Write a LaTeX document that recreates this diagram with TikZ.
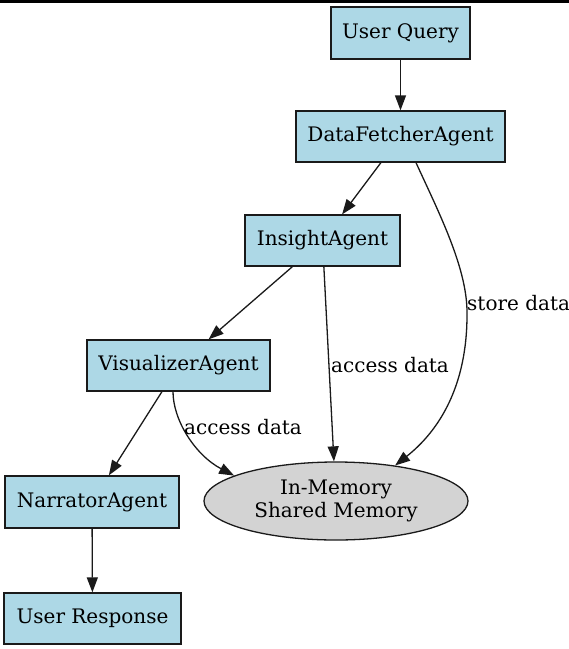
\documentclass[tikz,border=0pt]{standalone}
\usepackage{fontspec}
\setmainfont{DejaVu Serif}
\usetikzlibrary{arrows.meta,shapes.geometric}
\definecolor{boxfill}{HTML}{ADD8E6}
\definecolor{memfill}{HTML}{D3D3D3}
\definecolor{edgecol}{HTML}{1A1A1A}
\begin{document}
\begin{tikzpicture}[x=1pt,y=-1pt,
  every node/.style={font=\fontsize{20}{23}\selectfont},
  agent/.style={draw=edgecol,line width=1.3pt,fill=boxfill,rectangle,inner sep=0pt},
  mem/.style={draw=edgecol,line width=1.3pt,fill=memfill,ellipse,inner sep=0pt,align=center},
  conn/.style={draw=edgecol,line width=1.3pt,-{Triangle[length=15pt,width=11pt]}},
  lab/.style={anchor=west,inner sep=0pt}]
\useasboundingbox (0,0) rectangle (569,649);
\fill[black] (0,0) rectangle (569,2.5);
\node[agent,minimum width=139pt,minimum height=52pt] (uq) at (400.5,33) {User Query};
\node[agent,minimum width=209pt,minimum height=51pt] (df) at (400.5,136.5) {DataFetcherAgent};
\node[agent,minimum width=155pt,minimum height=51pt] (ia) at (322.5,240.5) {InsightAgent};
\node[agent,minimum width=183pt,minimum height=51pt] (va) at (178.5,365.5) {VisualizerAgent};
\node[agent,minimum width=174pt,minimum height=52pt] (na) at (92,502) {NarratorAgent};
\node[agent,minimum width=177pt,minimum height=51pt] (ur) at (92.5,618.5) {User Response};
\node[mem,minimum width=264pt,minimum height=78pt] (mm) at (336,501) {In-Memory\\Shared Memory};
\draw[conn] (uq) -- (df);
\draw[conn] (df) -- (ia);
\draw[conn] (ia) -- (va);
\draw[conn] (va) -- (na);
\draw[conn] (na) -- (ur);
\draw[conn] (ia) -- (mm);
\draw[conn] ([xshift=15.5pt]df.south) .. controls (440,215) and (468,270) .. (467,315)
  .. controls (467,385) and (440,430) .. (mm.31);
\draw[conn] ([xshift=-5.5pt]va.south) .. controls (173,420) and (195,455) .. (mm.166);
\node[lab] (l1) at (467,303) {store data};
\node[lab] (l2) at (331,365) {access data};
\node[lab] (l3) at (184,427) {access data};
\end{tikzpicture}
\end{document}
